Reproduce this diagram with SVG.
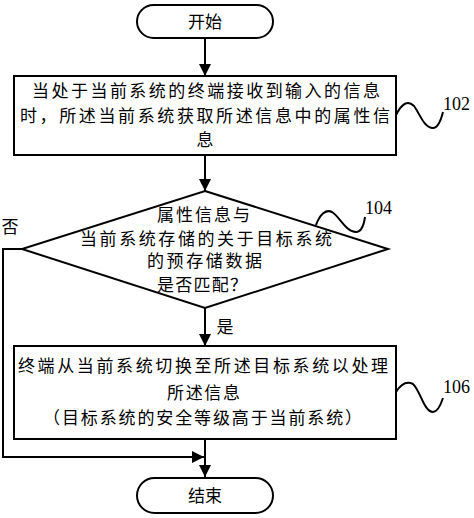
<svg xmlns="http://www.w3.org/2000/svg" width="474" height="518" viewBox="0 0 474 518">
<defs>
<marker id="arr" markerUnits="userSpaceOnUse" markerWidth="12" markerHeight="12" refX="12" refY="6" orient="auto">
<path d="M0,0 L12,6 L0,12 z" fill="#000"/>
</marker>
<style>
.shape{fill:#fff;stroke:#000;stroke-width:2}
.line{fill:none;stroke:#000;stroke-width:2}
.t{font-family:"Liberation Serif","Noto Sans CJK SC",serif;font-size:17px;fill:#000}
.tc{font-family:"Liberation Serif","Noto Sans CJK SC",serif;font-size:17px;fill:#000;text-anchor:middle}
.num{font-family:"Liberation Serif",serif;font-size:18px;fill:#000}
</style>
</defs>
<rect width="474" height="518" fill="#fff"/>
<g id="connectors">
<line class="line" x1="205" y1="38" x2="205" y2="76" marker-end="url(#arr)"/>
<line class="line" x1="205" y1="155" x2="205" y2="191" marker-end="url(#arr)"/>
<line class="line" x1="205" y1="308" x2="205" y2="346" marker-end="url(#arr)"/>
<polyline class="line" points="22,249 3,249 3,457 204,457" marker-end="url(#arr)"/>
<line class="line" x1="205" y1="439" x2="205" y2="477" marker-end="url(#arr)"/>
<text class="tc" x="225" y="333">是</text>
<text class="tc" x="10" y="233">否</text>
</g>
<g id="start">
<rect class="shape" x="137" y="5" width="136" height="33" rx="16.5"/>
<text class="tc" x="205" y="28">开始</text>
</g>
<g id="step102">
<rect class="shape" x="14" y="76" width="382" height="79"/>
<text class="t" x="32" y="96.5" textLength="348" lengthAdjust="spacing">当处于当前系统的终端接收到输入的信息</text>
<text class="t" x="20" y="122" textLength="370" lengthAdjust="spacing">时，所述当前系统获取所述信息中的属性信</text>
<text class="tc" x="205" y="146">息</text>
<path class="line" d="M396,115 C402,103 408,100 414,106 C420,114 424,128 433,128 C438,128 441,120 443,112"/>
<text class="num" x="443" y="110">102</text>
</g>
<g id="step104">
<polygon class="shape" points="205,191 388,249 205,308 22,249"/>
<text class="t" x="157" y="220.5" textLength="93" lengthAdjust="spacing">属性信息与</text>
<text class="t" x="80" y="244.5" textLength="252" lengthAdjust="spacing">当前系统存储的关于目标系统</text>
<text class="t" x="147" y="267" textLength="115" lengthAdjust="spacing">的预存储数据</text>
<text class="t" x="157" y="291" textLength="90" lengthAdjust="spacing">是否匹配？</text>
<path class="line" d="M316,225 C320,214 326,209 332,212 C340,217 346,232 356,232 C362,232 364,224 365,217"/>
<text class="num" x="365" y="214">104</text>
</g>
<g id="step106">
<rect class="shape" x="14" y="346" width="382" height="93"/>
<text class="t" x="18" y="372" textLength="370" lengthAdjust="spacing">终端从当前系统切换至所述目标系统以处理</text>
<text class="t" x="167" y="399" textLength="73" lengthAdjust="spacing">所述信息</text>
<text class="t" x="43" y="424" textLength="319" lengthAdjust="spacing">（目标系统的安全等级高于当前系统）</text>
<path class="line" d="M396,392 C401,384 407,381 413,384 C420,390 424,412 433,412 C438,412 441,404 443,398"/>
<text class="num" x="443" y="393">106</text>
</g>
<g id="end">
<rect class="shape" x="137" y="478" width="136" height="35" rx="17.5"/>
<text class="tc" x="205" y="502">结束</text>
</g>
</svg>
